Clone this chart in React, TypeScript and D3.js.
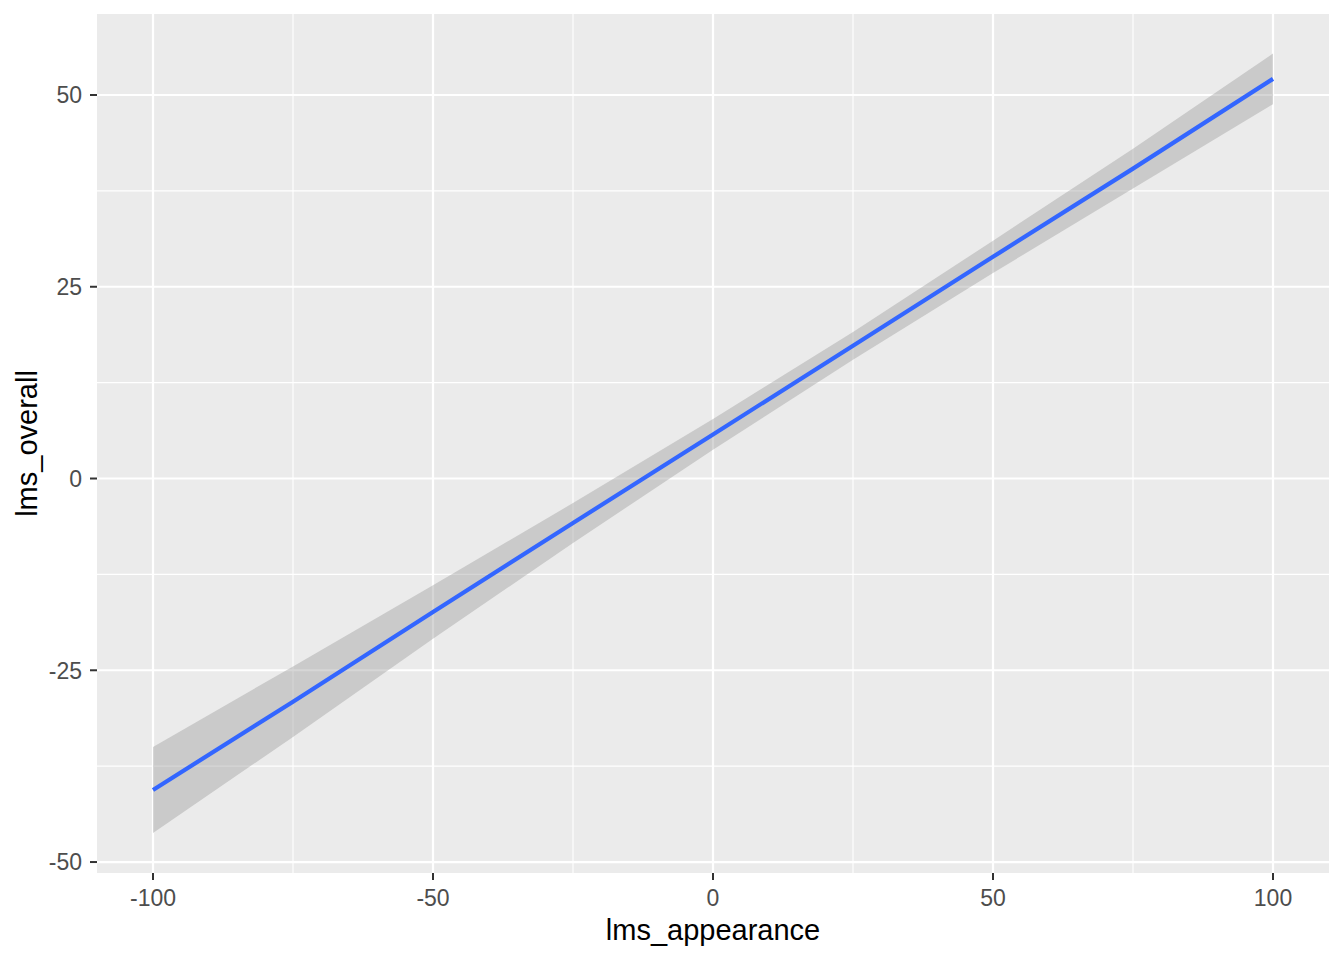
import * as d3 from "d3";
import React from "react";

// fitted line and confidence band
const xValues = [-100, -75, -50, -25, 0, 25, 50, 75, 100];
const fitValues = [-40.6, -29.1, -17.4, -5.8, 5.75, 17.3, 28.9, 40.4, 52.1];
const lowerValues = [-46.2, -33.7, -20.9, -8.4, 3.75, 15.5, 26.8, 37.8, 48.8];
const upperValues = [-35.0, -24.5, -13.9, -3.2, 7.75, 19.1, 31.0, 43.0, 55.4];

const xTicks = [-100, -50, 0, 50, 100];
const xMinor = [-75, -25, 25, 75];
const yTicks = [-50, -25, 0, 25, 50];
const yMinor = [-37.5, -12.5, 12.5, 37.5];

const xTitle = "lms_appearance";
const yTitle = "lms_overall";

const width = 1344;
const height = 960;
const panel = { left: 97, right: 1329, top: 14, bottom: 873 };
const font = "'Liberation Sans', Arial, sans-serif";

interface Row {
  x: number;
  y: number;
  lo: number;
  hi: number;
}

const App: React.FC = () => {
  const rows: Row[] = xValues.map((x, i) => ({
    x,
    y: fitValues[i],
    lo: lowerValues[i],
    hi: upperValues[i],
  }));

  const x = d3.scaleLinear().domain([-110, 110]).range([panel.left, panel.right]);
  const y = d3.scaleLinear().domain([-51.43, 60.56]).range([panel.bottom, panel.top]);

  const band = d3
    .area<Row>()
    .x((d) => x(d.x))
    .y0((d) => y(d.lo))
    .y1((d) => y(d.hi));

  const line = d3
    .line<Row>()
    .x((d) => x(d.x))
    .y((d) => y(d.y));

  return (
    <svg
      width={width}
      height={height}
      style={{ position: "absolute", left: 0, top: 0, background: "#fff" }}
    >
      <rect
        x={panel.left}
        y={panel.top}
        width={panel.right - panel.left}
        height={panel.bottom - panel.top}
        fill="#EBEBEB"
      />
      {xMinor.map((t) => (
        <line key={"xm" + t} x1={x(t)} x2={x(t)} y1={panel.top} y2={panel.bottom} stroke="#fff" strokeWidth={1.1} />
      ))}
      {yMinor.map((t) => (
        <line key={"ym" + t} x1={panel.left} x2={panel.right} y1={y(t)} y2={y(t)} stroke="#fff" strokeWidth={1.1} />
      ))}
      {xTicks.map((t) => (
        <line key={"xg" + t} x1={x(t)} x2={x(t)} y1={panel.top} y2={panel.bottom} stroke="#fff" strokeWidth={2.2} />
      ))}
      {yTicks.map((t) => (
        <line key={"yg" + t} x1={panel.left} x2={panel.right} y1={y(t)} y2={y(t)} stroke="#fff" strokeWidth={2.2} />
      ))}

      <path d={band(rows) ?? ""} fill="#999999" fillOpacity={0.4} />
      <path d={line(rows) ?? ""} fill="none" stroke="#3366FF" strokeWidth={4.2} />

      {/* x axis */}
      {xTicks.map((t) => (
        <g key={"xt" + t}>
          <line x1={x(t)} x2={x(t)} y1={panel.bottom} y2={panel.bottom + 7} stroke="#333333" strokeWidth={2} />
          <text x={x(t)} y={906} textAnchor="middle" fontFamily={font} fontSize={23} fill="#4D4D4D">
            {t}
          </text>
        </g>
      ))}
      {/* y axis */}
      {yTicks.map((t) => (
        <g key={"yt" + t}>
          <line x1={panel.left - 7} x2={panel.left} y1={y(t)} y2={y(t)} stroke="#333333" strokeWidth={2} />
          <text x={82} y={y(t) + 8.3} textAnchor="end" fontFamily={font} fontSize={23} fill="#4D4D4D">
            {t}
          </text>
        </g>
      ))}

      <text
        x={(panel.left + panel.right) / 2}
        y={940}
        textAnchor="middle"
        fontFamily={font}
        fontSize={29}
        fill="#000"
      >
        {xTitle}
      </text>
      <text
        transform={`translate(37,${(panel.top + panel.bottom) / 2}) rotate(-90)`}
        textAnchor="middle"
        fontFamily={font}
        fontSize={29}
        fill="#000"
      >
        {yTitle}
      </text>
    </svg>
  );
};

export default App;
